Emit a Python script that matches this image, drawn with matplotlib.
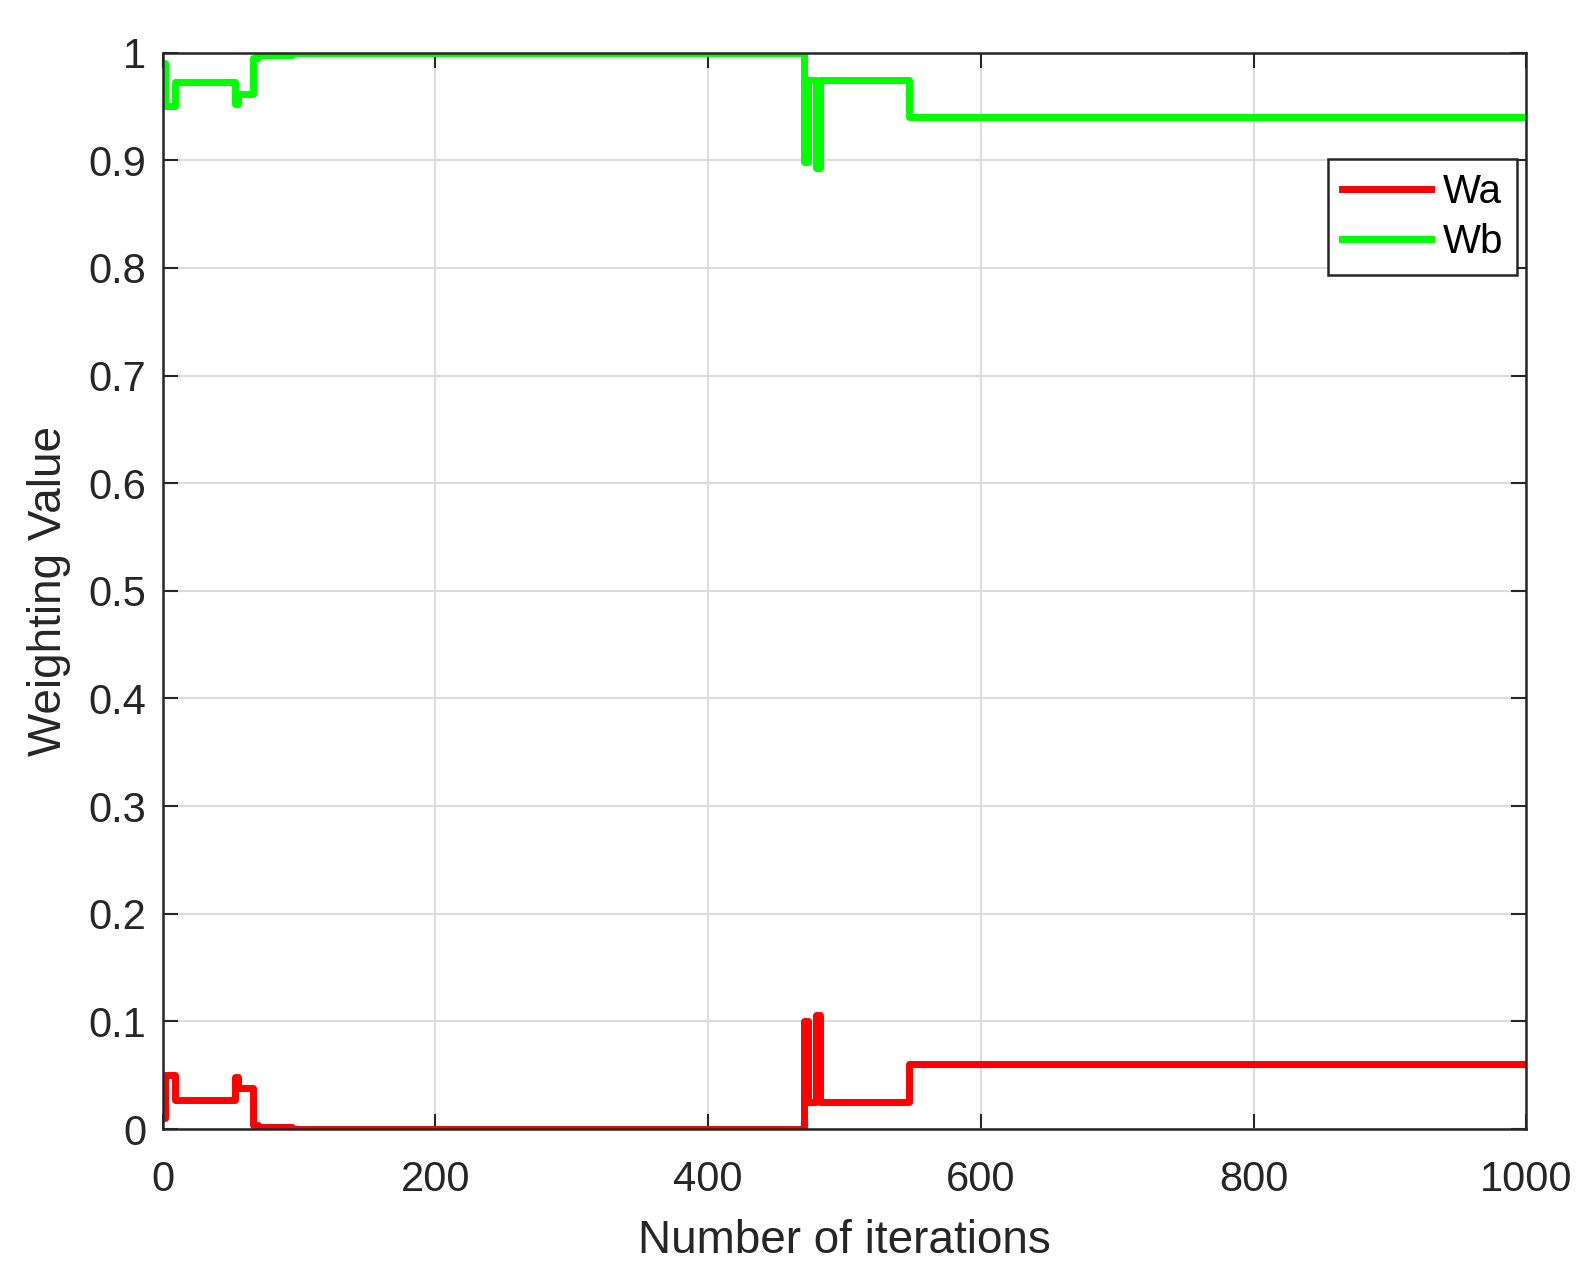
import matplotlib
matplotlib.use('Agg')
import matplotlib.pyplot as plt

# breakpoints (value holds until the next iteration)
iters = [0, 2, 9, 53, 55, 66, 70, 95, 470, 473, 479, 482, 547, 1000]
wa = [0.010, 0.050, 0.027, 0.048, 0.038, 0.004, 0.002, 0.0, 0.100, 0.025, 0.106, 0.025, 0.060, 0.060]
wb = [0.990, 0.950, 0.973, 0.952, 0.962, 0.995, 0.998, 1.0, 0.898, 0.975, 0.893, 0.975, 0.940, 0.940]

plt.rcParams['font.family'] = ['Liberation Sans', 'DejaVu Sans']
dark = '#262626'

fig = plt.figure(figsize=(15.95, 12.83), dpi=100)
ax = fig.add_axes([0.102, 0.120, 0.855, 0.839])

ax.plot(iters, wa, color='#ff0000', lw=5, drawstyle='steps-post', label='Wa')
ax.plot(iters, wb, color='#00ff00', lw=5, drawstyle='steps-post', label='Wb')

ax.set_xlim(0, 1000)
ax.set_ylim(0, 1)
ax.set_xticks([0, 200, 400, 600, 800, 1000])
ax.set_yticks([i / 10 for i in range(11)])
ax.set_yticklabels(['0', '0.1', '0.2', '0.3', '0.4', '0.5', '0.6', '0.7', '0.8', '0.9', '1'])

ax.grid(True, color='#dcdcdc', lw=1.5)
ax.set_axisbelow(True)
ax.tick_params(direction='in', length=11, width=1.5, colors=dark, labelsize=30,
               top=True, right=True)
ax.tick_params(axis='x', pad=22)
ax.tick_params(axis='y', pad=12)
for s in ax.spines.values():
    s.set_color(dark)
    s.set_linewidth(1.8)

ax.set_xlabel('Number of iterations', fontsize=33, color=dark, labelpad=14)
ax.set_ylabel('Weighting Value', fontsize=33, color=dark, labelpad=12)

leg = ax.legend(loc='upper right', bbox_to_anchor=(0.9934, 0.9015), borderaxespad=0,
                fontsize=29, handlelength=2.2, handletextpad=0.3, fancybox=False,
                framealpha=1, edgecolor=dark, labelspacing=0.3, borderpad=0.35)
leg.get_frame().set_linewidth(1.8)

fig.savefig('out.png', dpi=100)
